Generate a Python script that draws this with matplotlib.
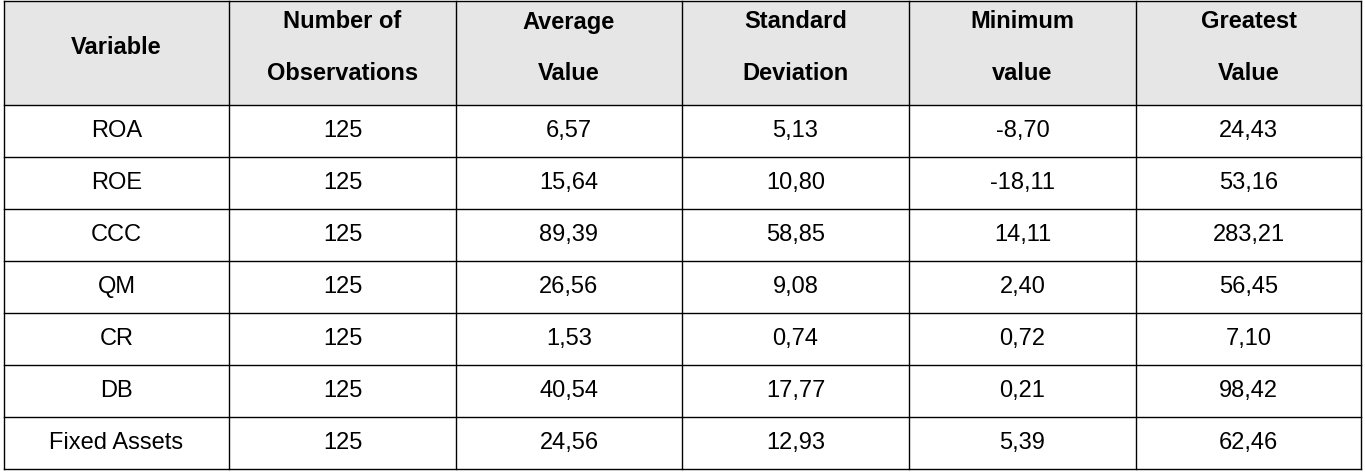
import matplotlib.pyplot as plt
from matplotlib.patches import Rectangle

plt.rcParams['font.family'] = ['Liberation Sans', 'DejaVu Sans']

headers = ["Variable", "Number of\nObservations", "Average\nValue",
           "Standard\nDeviation", "Minimum\nvalue", "Greatest\nValue"]
variables = ["ROA", "ROE", "CCC", "QM", "CR", "DB", "Fixed Assets"]
n_obs = ["125"] * 7
average = ["6,57", "15,64", "89,39", "26,56", "1,53", "40,54", "24,56"]
std_dev = ["5,13", "10,80", "58,85", "9,08", "0,74", "17,77", "12,93"]
minimum = ["-8,70", "-18,11", "14,11", "2,40", "0,72", "0,21", "5,39"]
greatest = ["24,43", "53,16", "283,21", "56,45", "7,10", "98,42", "62,46"]

col_x = [4, 229, 456, 682, 909, 1136, 1361]
header_top, header_bot = 1, 105
row_h = 52

fig = plt.figure(figsize=(13.65, 4.73), dpi=100)
ax = fig.add_axes([0, 0, 1, 1])
ax.set_xlim(0, 1365)
ax.set_ylim(473, 0)
ax.axis("off")

# header background
ax.add_patch(Rectangle((col_x[0], header_top), col_x[-1] - col_x[0],
                       header_bot - header_top, facecolor="#e6e6e6", edgecolor="none"))

columns = [variables, n_obs, average, std_dev, minimum, greatest]
for j, h in enumerate(headers):
    cx = (col_x[j] + col_x[j + 1]) / 2
    lines = h.split("\n")
    if len(lines) == 1:
        ax.text(cx, 48, lines[0], ha="center", va="center", fontsize=17, fontweight="bold")
    else:
        ax.text(cx, 22, lines[0], ha="center", va="center", fontsize=17, fontweight="bold")
        ax.text(cx, 74, lines[1], ha="center", va="center", fontsize=17, fontweight="bold")
    for i, val in enumerate(columns[j]):
        cy = header_bot + row_h * i + row_h / 2
        ax.text(cx, cy, val, ha="center", va="center", fontsize=17)

bottom = header_bot + row_h * len(variables)
lw = 1.0
for x in col_x:
    ax.plot([x, x], [header_top, bottom], color="black", lw=lw)
ax.plot([col_x[0], col_x[-1]], [header_top, header_top], color="black", lw=lw)
for i in range(len(variables) + 1):
    y = header_bot + row_h * i
    ax.plot([col_x[0], col_x[-1]], [y, y], color="black", lw=lw)

fig.savefig("out.png", dpi=100)
